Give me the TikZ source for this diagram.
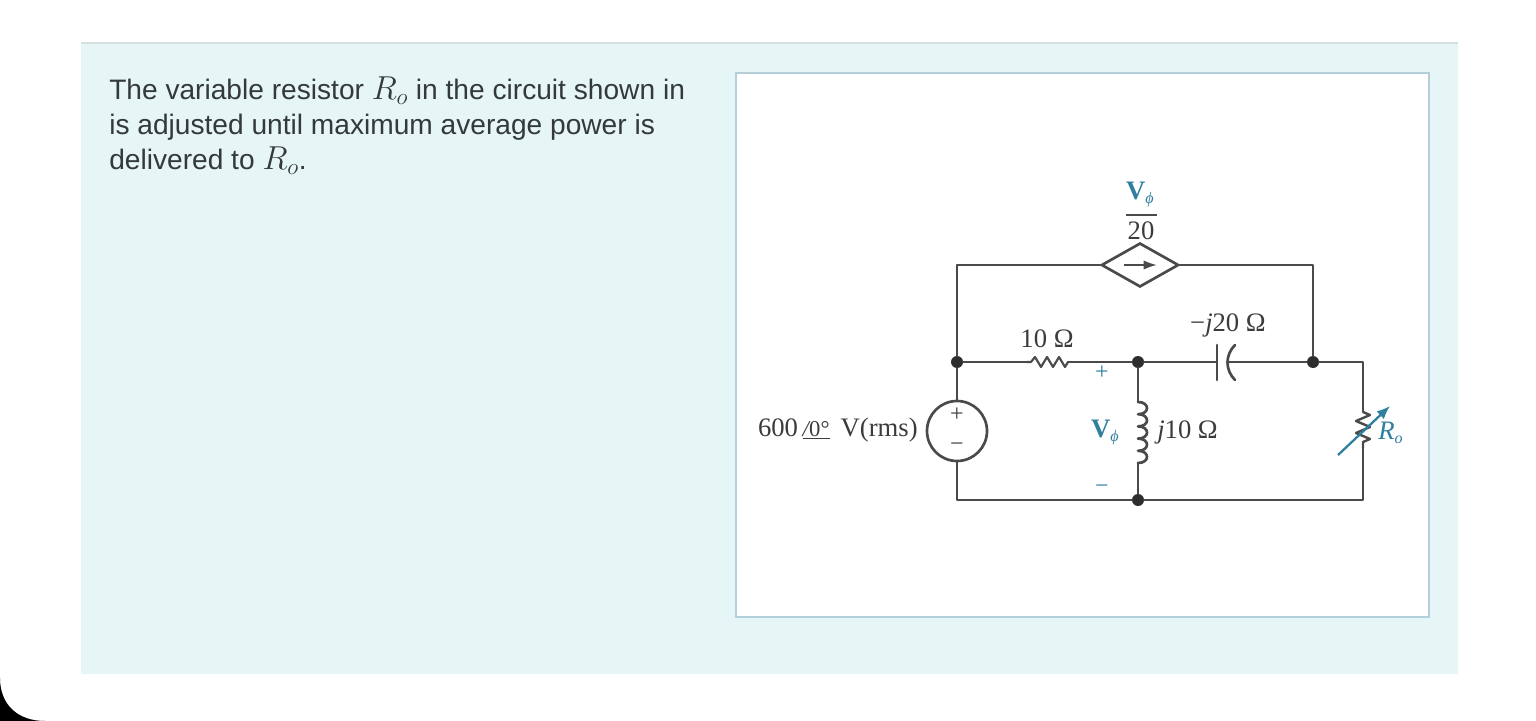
\documentclass[tikz,border=0pt]{standalone}
\usepackage{fontspec}
\usepackage{array}
\usetikzlibrary{shapes.geometric,arrows.meta}
\setmainfont{Liberation Serif}
\newfontfamily\prosefont{Liberation Sans}
\definecolor{panel}{HTML}{E6F5F6}
\definecolor{panelline}{HTML}{D8DFE0}
\definecolor{boxline}{HTML}{B4CFDA}
\definecolor{wire}{HTML}{4A4A4A}
\definecolor{ink}{HTML}{33393C}
\definecolor{labelgray}{HTML}{3C3C3C}
\definecolor{accent}{HTML}{2F7F9F}
\newcommand{\Vphi}{\textbf{V}\raisebox{-3pt}{\fontsize{12}{13}\selectfont\textit{ϕ}}}
\newcommand{\Rsub}{{\fontsize{24}{26}\selectfont$R_o$}}
\tikzset{
  wireline/.style={draw=wire,line width=2pt,line join=round,line cap=round},
  junction/.style={circle,fill=black!82,inner sep=0pt,minimum size=9pt},
  cirlabel/.style={text=labelgray,font=\fontsize{20}{22}\selectfont,inner sep=0pt},
  polelabel/.style={text=accent,font=\fontsize{18}{19}\selectfont,inner sep=0pt},
  prose/.style={text=ink,inner sep=0pt,anchor=north west,align=left,font=\prosefont\fontsize{21.1}{26.25}\selectfont},
}
\begin{document}
\begin{tikzpicture}[x=0.75pt,y=-0.75pt]
\useasboundingbox (0,0) rectangle (1536,721);
\fill[white] (0,0) rectangle (1536,721);
\fill[black] (0,678) .. controls (0,705) and (18,721) .. (45,721) -- (0,721) -- cycle;
\fill[panel] (81,43) rectangle (1458,674);
\draw[panelline,line width=1pt] (81,43) -- (1458,43);
\draw[boxline,line width=1.2pt,fill=white] (736,73) rectangle (1429,617);

\node[prose] (text) at (109,77) {The variable resistor \Rsub{} in the circuit shown in\\is adjusted until maximum average power is\\delivered to \Rsub.};

% junctions
\node[junction] (ja) at (957,362) {};
\node[junction] (jb) at (1138,362) {};
\node[junction] (jc) at (1313,362) {};
\node[junction] (jd) at (1138,500) {};

% component terminals
\coordinate (topleft) at (957,265);
\coordinate (topright) at (1313,265);
\coordinate (botleft) at (957,500);
\coordinate (corner) at (1363,362);
\coordinate (botright) at (1363,500);
\coordinate (ra) at (1027,362);
\coordinate (rb) at (1068,362);
\coordinate (capa) at (1217,362);
\coordinate (capb) at (1228,362);
\coordinate (la) at (1138,402);
\coordinate (lb) at (1138,463);
\coordinate (va) at (1363,412);
\coordinate (vb) at (1363,448);
\coordinate (arrowa) at (1338,455);
\coordinate (arrowb) at (1390,406);
\coordinate (cca) at (1124,265);
\coordinate (ccb) at (1157,265);

% source and controlled source
\node[circle,draw=wire,line width=2pt,minimum size=45pt,inner sep=0pt] (src) at (957,431) {};
\node[diamond,draw=wire,line width=2pt,minimum width=58pt,minimum height=33pt,inner sep=0pt,aspect=1.75] (dep) at (1140,265) {};
\node[polelabel,text=labelgray] (sp) at (957,415) {+};
\node[polelabel,text=labelgray] (sm) at (957,447) {\textminus};
\draw[wire,line width=1.6pt,-{Latex[length=10pt,width=7pt]}] (cca) -- (ccb);

% wires
\draw[wireline] (src.north) -- (ja);
\draw[wireline] (ja) -- (topleft) -- (dep.west);
\draw[wireline] (dep.east) -- (topright) -- (jc);
\draw[wireline] (ja) -- (ra);
\draw[wireline] (rb) -- (jb);
\draw[wireline] (jb) -- (capa);
\draw[wireline] (capb) -- (jc);
\draw[wireline] (jc) -- (corner) -- (va);
\draw[wireline] (vb) -- (botright) -- (jd);
\draw[wireline] (jd) -- (botleft) -- (src.south);
\draw[wireline] (jb) -- (la);
\draw[wireline] (lb) -- (jd);

% 10 ohm resistor
\draw[wire,line width=1.6pt,line join=round] (ra) -- ++(4,0) -- ++(4,-5) -- ++(6,10) -- ++(6,-10) -- ++(6,10) -- ++(6,-10) -- ++(6,10) -- (rb);
% capacitor
\draw[wireline] (1217,345) -- (1217,380);
\draw[wireline] (1235,345) .. controls (1225,355) and (1225,370) .. (1235,380);
% inductor
\draw[wireline] (la) .. controls +(12,0) and +(12,0) .. ++(0,12.2)
  .. controls +(12,0) and +(12,0) .. ++(0,12.2)
  .. controls +(12,0) and +(12,0) .. ++(0,12.2)
  .. controls +(12,0) and +(12,0) .. ++(0,12.2)
  .. controls +(12,0) and +(12,0) .. (lb);
% variable resistor
\draw[wire,line width=1.8pt,line join=round] (va) -- ++(7,3) -- ++(-14,6) -- ++(14,6) -- ++(-14,6) -- ++(14,6) -- ++(-7,3) -- (vb);
\draw[accent,line width=1.7pt,-{Latex[length=10pt,width=8pt]}] (arrowa) -- (arrowb);

% labels
\node[cirlabel,anchor=east] (srclabel) at (918,430) {600\,\underline{\smash{\fontsize{17}{18}\selectfont\textit{/}\kern-1pt0°}}\, V(rms)};
\node[cirlabel] (rlabel) at (1047,339) {10 Ω};
\node[cirlabel] (clabel) at (1228,325) {\textminus\textit{j}20 Ω};
\node[cirlabel,anchor=west] (llabel) at (1157,432) {\textit{j}10 Ω};
\node[polelabel] (vplus) at (1102,373) {+};
\node[polelabel] (vminus) at (1102,489) {\textminus};
\node[cirlabel,text=accent,anchor=east] (vlabel) at (1119,432) {\Vphi};
\node[cirlabel,text=accent,anchor=west] (rolabel) at (1378,433) {\textit{R}\raisebox{-3pt}{\fontsize{12}{13}\selectfont\textit{o}}};
\node[cirlabel,text=accent] (fractop) at (1140,194) {\Vphi};
\node[cirlabel] (fracbot) at (1141,231) {20};
\coordinate (ruleleft) at (1126,215);
\coordinate (ruleright) at (1157,215);
\draw[wire,line width=1.4pt] (ruleleft) -- (ruleright);
\end{tikzpicture}
\end{document}
